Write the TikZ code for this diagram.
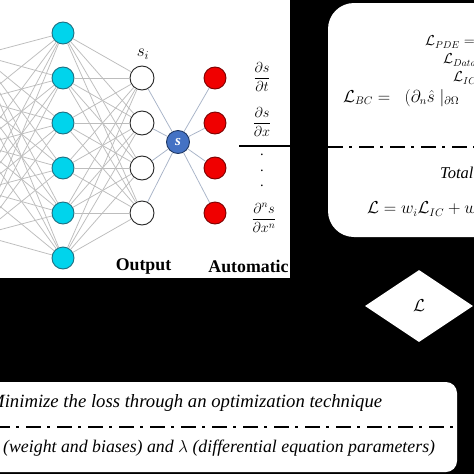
\documentclass[tikz,border=0pt]{standalone}
\usepackage{fontspec}
\setmainfont{Liberation Serif}
\usetikzlibrary{shapes.geometric}
\definecolor{cyanfill}{HTML}{00D4EC}
\definecolor{cyanline}{HTML}{1F6E80}
\definecolor{sfill}{HTML}{4472C4}
\definecolor{sline}{HTML}{1F3864}
\definecolor{redfill}{HTML}{F00000}
\definecolor{redline}{HTML}{7A0000}
\definecolor{netgray}{HTML}{BDBDBD}
\definecolor{bluegray}{HTML}{A8B4C8}
\begin{document}
\begin{tikzpicture}[x=1pt,y=-1pt,
  edge/.style={draw=netgray, line width=0.75pt},
  bedge/.style={draw=bluegray, line width=0.75pt},
  cyannode/.style={circle, fill=cyanfill, draw=cyanline, line width=0.9pt, minimum size=22pt, inner sep=0pt},
  outnode/.style={circle, fill=white, draw=black!85, line width=0.9pt, minimum size=24pt, inner sep=0pt},
  snode/.style={circle, fill=sfill, draw=sline, line width=0.9pt, minimum size=23pt, inner sep=0pt, text=white, font=\fontsize{15}{15}\selectfont\bfseries\itshape},
  rednode/.style={circle, fill=redfill, draw=redline, line width=0.9pt, minimum size=22pt, inner sep=0pt},
  lbl/.style={inner sep=0pt, font=\fontsize{17.8}{20}\selectfont\bfseries},
  deriv/.style={inner sep=0pt, font=\fontsize{14.5}{17}\selectfont},
  eqn/.style={inner sep=0pt, anchor=west, font=\fontsize{16}{18}\selectfont},
  eqs/.style={inner sep=0pt, anchor=west, font=\fontsize{14.5}{16}\selectfont},
  itxt/.style={inner sep=0pt, anchor=west, font=\fontsize{17.8}{20}\selectfont\itshape},
  dashdot/.style={line width=1.4pt, dash pattern=on 15pt off 6pt on 3pt off 7pt}
]
\useasboundingbox (0,0) rectangle (474,474);
\fill[black] (0,0) rectangle (474,474);
% network panel
\fill[white] (-5,-5) rectangle (290,278);
% hidden previous layer (off picture)
\foreach \i/\y in {1/55,2/100,3/145,4/190,5/235} \coordinate (h\i) at (-20,\y);
\foreach \i/\y in {1/33,2/78,3/123,4/168,5/213,6/258} \node[cyannode] (c\i) at (63,\y) {};
\foreach \i/\y in {1/78,2/123,3/168,4/213} \node[outnode] (o\i) at (142,\y) {};
\node[snode] (s) at (178,142) {s};
\foreach \i/\y in {1/78,2/123,3/168,4/213} \node[rednode] (r\i) at (215,\y) {};
\foreach \i in {1,...,5} \foreach \j in {1,...,6} \draw[edge] (h\i) -- (c\j);
\foreach \i in {1,...,6} \foreach \j in {1,...,4} \draw[edge] (c\i) -- (o\j);
\foreach \j in {1,...,4} \draw[bedge] (o\j) -- (s);
\foreach \j in {1,...,4} \draw[bedge] (s) -- (r\j);
\node[inner sep=0pt, font=\fontsize{18}{20}\selectfont] (si) at (143,54) {$s_i$};
\node[deriv] (d1) at (262,77) {$\displaystyle\frac{\partial s}{\partial t}$};
\node[deriv] (d2) at (262,122) {$\displaystyle\frac{\partial s}{\partial x}$};
\node[deriv] (dt1) at (262,155) {.};
\node[deriv] (dt2) at (262,171) {.};
\node[deriv] (dt3) at (262,186) {.};
\node[deriv] (dn) at (264,218) {$\displaystyle\frac{\partial^n s}{\partial x^n}$};
\node[lbl] (outl) at (143.5,266) {Output};
\node[lbl] (autol) at (248.5,266) {Automatic};
\coordinate (sep1) at (239,146);
\coordinate (sep2) at (290,146);
\draw[line width=1.4pt] (sep1) -- (sep2);
% loss box
\fill[white, rounded corners=26pt] (328,3) rectangle (560,237);
\node[eqs] (lpde) at (425,42) {$\mathcal{L}_{PDE} =$};
\node[eqs] (ldata) at (443,60) {$\mathcal{L}_{Data}$};
\node[eqs] (lic) at (453,78) {$\mathcal{L}_{IC}$};
\node[eqn] (lbc) at (343,98) {$\mathcal{L}_{BC} = \;\;(\partial_n \hat{s}\;|_{\partial\Omega}$};
\coordinate (dd1) at (328,147);
\coordinate (dd2) at (474,147);
\draw[dashdot] (dd1) -- (dd2);
\node[eqn, font=\fontsize{16.5}{18}\selectfont\itshape] (tot) at (440,173) {Total loss};
\node[eqn] (ltot) at (367,209) {$\mathcal{L} = w_i\mathcal{L}_{IC} + w_b$};
% diamond
\node[diamond, fill=white, minimum width=108pt, minimum height=72pt, inner sep=0pt, font=\fontsize{16}{18}\selectfont] (loss) at (419,306) {$\mathcal{L}$};
% optimisation box
\fill[white, rounded corners=11pt] (-30,382) rectangle (457,472);
\node[itxt, font=\fontsize{18.7}{20}\selectfont\itshape] (opt1) at (-11,403) {Minimize the loss through an optimization technique};
\coordinate (dd3) at (-5,427);
\coordinate (dd4) at (457,427);
\draw[dashdot] (dd3) -- (dd4);
\node[itxt] (opt2) at (3,448) {(weight and biases) and $\lambda$ (differential equation parameters)};
\end{tikzpicture}
\end{document}
